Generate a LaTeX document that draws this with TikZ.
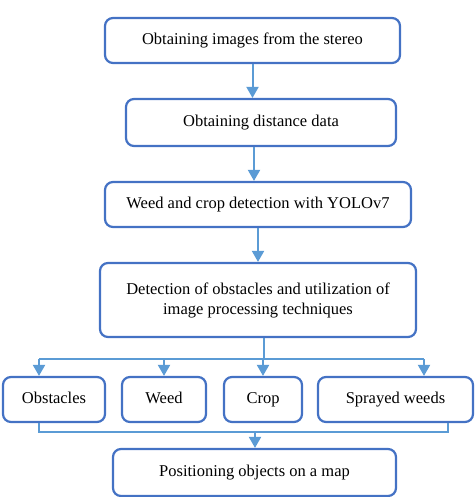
\documentclass[tikz,border=0pt]{standalone}
\usepackage{fontspec}
\setmainfont{Liberation Serif}
\usetikzlibrary{arrows.meta,positioning}
\definecolor{boxblue}{HTML}{4472C4}
\definecolor{arrowblue}{HTML}{5B9BD5}

\begin{document}
\begin{tikzpicture}[
  x = 1pt, y = -1pt,
  > = {Triangle[width=12pt,length=11pt]},
  stage/.style = {rectangle, draw=boxblue, line width=2.2pt, rounded corners=8pt,
                  align=center, inner sep=2pt, font=\fontsize{16.5}{20}\selectfont},
  oneline/.style = {stage, text height=11.5pt, text depth=3.5pt},
  flow/.style  = {->, draw=arrowblue, line width=2pt},
  bus/.style   = {draw=arrowblue, line width=1.1pt}
]
\useasboundingbox (0,0) rectangle (474,497);

% ───────── main chain ─────────
\node[oneline, minimum width=295pt, minimum height=45pt] (images)   at (252.5,40.5) {Obtaining images from the stereo};
\node[oneline, minimum width=270pt, minimum height=47pt] (distance) at (261,122.5)  {Obtaining distance data};
\node[oneline, minimum width=306pt, minimum height=45pt] (yolo)     at (258,204.5)  {Weed and crop detection with YOLOv7};
\node[stage,   minimum width=316pt, minimum height=74pt] (detect)   at (258,300)    {Detection of obstacles and utilization of\\image processing techniques};

% ───────── classes ─────────
\node[oneline, minimum width=102pt, minimum height=45pt] (obst)  at (54,399.5)    {Obstacles};
\node[oneline, minimum width=84pt,  minimum height=45pt] (weed)  at (164,399.5)   {Weed};
\node[oneline, minimum width=78pt,  minimum height=45pt] (crop)  at (263,399.5)   {Crop};
\node[oneline, minimum width=155pt, minimum height=45pt] (spray) at (395.5,399.5) {Sprayed weeds};

% ───────── output ─────────
\node[oneline, minimum width=283pt, minimum height=47pt] (map) at (254.5,472.5) {Positioning objects on a map};

% ───────── arrows ──────────
\draw[flow] (images.south) -- (images.south |- distance.north);
\draw[flow] ([xshift=-7pt]distance.south) -- ([xshift=-7pt]distance.south |- yolo.north);
\draw[flow] (yolo.south) -- (yolo.south |- detect.north);

\coordinate (split) at (264,359);
\coordinate (busL)  at ([xshift=-15pt]obst.north |- split);
\coordinate (busR)  at ([xshift=28.5pt]spray.north |- split);
\draw[bus] (detect.south -| split) -- (split);
\draw[bus] (busL) -- (busR);
\draw[flow] (busL) -- (busL |- obst.north);
\draw[flow] (weed.north |- split) -- (weed.north);
\draw[flow] (crop.north |- split) -- (crop.north);
\draw[flow] (busR) -- (busR |- spray.north);

\coordinate (merge) at (255,432);
\draw[bus] ([xshift=-15pt]obst.south) |- (merge) -| ([xshift=52.5pt]spray.south);
\draw[flow] (merge) -- (merge |- map.north);
\end{tikzpicture}
\end{document}
